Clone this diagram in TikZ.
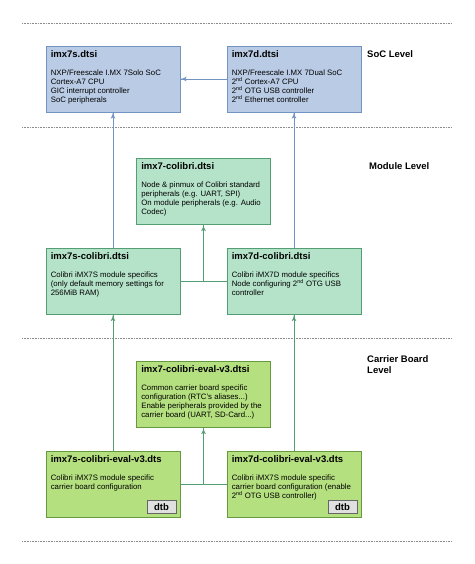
\documentclass[tikz,border=0pt]{standalone}
\usepackage{fontspec}
\setmainfont{Liberation Sans}
\usetikzlibrary{arrows}
\usetikzlibrary{decorations.markings}
\usetikzlibrary{positioning}
\definecolor{socfill}{rgb}{0.73, 0.80, 0.90}
\definecolor{socedge}{rgb}{0.45, 0.58, 0.76}
\definecolor{modfill}{rgb}{0.71, 0.89, 0.79}
\definecolor{modedge}{rgb}{0.33, 0.62, 0.45}
\definecolor{carfill}{rgb}{0.71, 0.88, 0.50}
\definecolor{caredge}{rgb}{0.40, 0.60, 0.25}
\definecolor{dtbfill}{rgb}{0.88, 0.88, 0.88}
\tikzset{arrowto/.style = {decoration={markings,
                                       mark=at position 1 with {\arrow[scale=1.2]{latex'}}},
                           postaction={decorate}}}
\tikzset{filebox/.style = {draw, line width=0.8pt, minimum width=134pt, minimum height=66pt, inner sep=0}}
\tikzset{socbox/.style = {filebox, fill=socfill, draw=socedge}}
\tikzset{modbox/.style = {filebox, fill=modfill, draw=modedge}}
\tikzset{carbox/.style = {filebox, fill=carfill, draw=caredge}}
\tikzset{dtbbox/.style = {draw=black!60, fill=dtbfill, line width=0.8pt, minimum width=29pt, minimum height=13pt,
                          inner sep=0, anchor=south east, font=\fontsize{9.5}{11}\selectfont\bfseries}}
\tikzset{ftitle/.style = {anchor=base west, inner sep=0, font=\fontsize{9.5}{11}\selectfont\bfseries}}
\tikzset{fbody/.style = {anchor=north west, inner sep=0, align=left, font=\fontsize{7.8}{9}\selectfont}}
\tikzset{level/.style = {anchor=base west, inner sep=0, align=left, font=\fontsize{9.5}{11}\selectfont\bfseries}}
\tikzset{sepline/.style = {densely dotted, black!45, line width=0.6pt}}
\tikzset{socline/.style = {draw=socedge, line width=0.8pt}}
\tikzset{modline/.style = {draw=modedge, line width=0.8pt}}
\newcommand{\nd}{2\textsuperscript{nd}}
\newcommand{\topstrut}{\rule{0pt}{6pt}}

\begin{document}
\begin{tikzpicture}[x=1pt, y=-1pt]
      \useasboundingbox (0, 0) rectangle (474, 564);

      % level separators
      \foreach \y in {23, 127, 338, 541} {
        \draw [sepline] (22, \y) -- (452, \y);
      }

      % SoC level
      \node [socbox] (imx7s) at (113, 79) {};
      \node [ftitle] (imx7s-title) at ([shift={(5, 11.5)}]imx7s.north west) {imx7s.dtsi};
      \node [fbody] (imx7s-body) at ([shift={(5, 23.5)}]imx7s.north west)
        {\topstrut NXP/Freescale I.MX 7Solo SoC\\Cortex-A7 CPU\\GIC interrupt controller\\SoC peripherals};

      \node [socbox] (imx7d) at (294, 79) {};
      \node [ftitle] (imx7d-title) at ([shift={(5, 11.5)}]imx7d.north west) {imx7d.dtsi};
      \node [fbody] (imx7d-body) at ([shift={(5, 23.5)}]imx7d.north west)
        {\topstrut NXP/Freescale I.MX 7Dual SoC\\\nd{} Cortex-A7 CPU\\\nd{} OTG USB controller\\\nd{} Ethernet controller};

      \node [level] (soc-level) at (367, 57.5) {SoC Level};

      % module level
      \node [modbox] (imx7c) at (203.5, 191.5) {};
      \node [ftitle] (imx7c-title) at ([shift={(5, 11.5)}]imx7c.north west) {imx7-colibri.dtsi};
      \node [fbody] (imx7c-body) at ([shift={(5, 23.5)}]imx7c.north west)
        {\topstrut Node \& pinmux of Colibri standard\\peripherals (e.g. UART, SPI)\\On module peripherals (e.g. Audio\\Codec)};

      \node [modbox] (imx7sc) at (113, 281.5) {};
      \node [ftitle] (imx7sc-title) at ([shift={(5, 11.5)}]imx7sc.north west) {imx7s-colibri.dtsi};
      \node [fbody] (imx7sc-body) at ([shift={(5, 23.5)}]imx7sc.north west)
        {\topstrut Colibri iMX7S module specifics\\(only default memory settings for\\256MiB RAM)};

      \node [modbox] (imx7dc) at (294, 281.5) {};
      \node [ftitle] (imx7dc-title) at ([shift={(5, 11.5)}]imx7dc.north west) {imx7d-colibri.dtsi};
      \node [fbody] (imx7dc-body) at ([shift={(5, 23.5)}]imx7dc.north west)
        {\topstrut Colibri iMX7D module specifics\\Node configuring \nd{} OTG USB\\controller};

      \node [level] (mod-level) at (369, 169.5) {Module Level};

      % carrier board level
      \node [carbox] (imx7ce) at (203.5, 394.5) {};
      \node [ftitle] (imx7ce-title) at ([shift={(5, 11.5)}]imx7ce.north west) {imx7-colibri-eval-v3.dtsi};
      \node [fbody] (imx7ce-body) at ([shift={(5, 23.5)}]imx7ce.north west)
        {\topstrut Common carrier board specific\\configuration (RTC's aliases...)\\Enable peripherals provided by the\\carrier board (UART, SD-Card...)};

      \node [carbox] (imx7sce) at (113, 484.5) {};
      \node [ftitle] (imx7sce-title) at ([shift={(5, 11.5)}]imx7sce.north west) {imx7s-colibri-eval-v3.dts};
      \node [fbody] (imx7sce-body) at ([shift={(5, 23.5)}]imx7sce.north west)
        {\topstrut Colibri iMX7S module specific\\carrier board configuration};
      \node [dtbbox] (imx7sce-dtb) at ([shift={(-4, -4)}]imx7sce.south east) {dtb};

      \node [carbox] (imx7dce) at (294, 484.5) {};
      \node [ftitle] (imx7dce-title) at ([shift={(5, 11.5)}]imx7dce.north west) {imx7d-colibri-eval-v3.dts};
      \node [fbody] (imx7dce-body) at ([shift={(5, 23.5)}]imx7dce.north west)
        {\topstrut Colibri iMX7S module specific\\carrier board configuration (enable\\\nd{} OTG USB controller)};
      \node [dtbbox] (imx7dce-dtb) at ([shift={(-4, -4)}]imx7dce.south east) {dtb};

      \node [level] (car-level) at (367, 373) {Carrier Board\\Level};

      % includes
      \draw [socline, arrowto] (imx7d.west) -- (imx7s.east);
      \draw [socline, arrowto] (imx7sc.north) -- (imx7s.south);
      \draw [socline, arrowto] (imx7dc.north) -- (imx7d.south);

      \coordinate (modjoin) at (imx7c.south |- imx7sc.east);
      \draw [modline] (imx7sc.east) -- (imx7dc.west);
      \draw [modline, arrowto] (modjoin) -- (imx7c.south);

      \draw [modline, arrowto] (imx7sce.north) -- (imx7sc.south);
      \draw [modline, arrowto] (imx7dce.north) -- (imx7dc.south);

      \coordinate (carjoin) at (imx7ce.south |- imx7sce.east);
      \draw [modline] (imx7sce.east) -- (imx7dce.west);
      \draw [modline, arrowto] (carjoin) -- (imx7ce.south);
    \end{tikzpicture}
\end{document}
